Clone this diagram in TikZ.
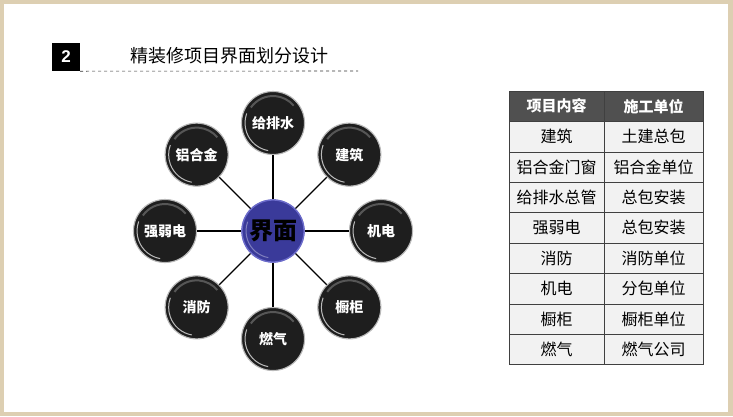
\documentclass[tikz,border=0pt]{standalone}
\usepackage{fontspec}
\usepackage{xcolor}
\setmainfont{Liberation Sans}
\newfontfamily\cjk{Noto Sans CJK SC}
\usetikzlibrary{calc}

\definecolor{frame}{RGB}{221,207,178}
\definecolor{hubblue}{RGB}{58,58,154}
\definecolor{ballblack}{RGB}{30,30,30}
\definecolor{headgray}{RGB}{80,80,80}
\definecolor{cellgray}{RGB}{242,242,242}

\begin{document}
\begin{tikzpicture}[x=1pt, y=-1pt]
    \tikzset{
        ball/.style={circle, draw=gray!55, line width=1.1pt, fill=ballblack, minimum size=63pt, inner sep=0pt, text=white, font=\cjk\bfseries\fontsize{14}{16}\selectfont,
            path picture={\draw [white, opacity=0.7, line width=1pt] ($(path picture bounding box.center)+(100:28)$) arc [start angle=100, end angle=200, radius=28];
                          \draw [white, opacity=0.25, line width=2pt] ($(path picture bounding box.center)+(215:27)$) arc [start angle=215, end angle=320, radius=27];}},
        hub/.style={circle, draw=blue!25!hubblue!70, line width=1.3pt, fill=hubblue, minimum size=62pt, inner sep=0pt, text=black, font=\cjk\bfseries\fontsize{24}{26}\selectfont,
            path picture={\draw [white, opacity=0.35, line width=1pt] ($(path picture bounding box.center)+(100:27)$) arc [start angle=100, end angle=200, radius=27];}},
        spoke/.style={line width=1.2pt, black},
        headcell/.style={rectangle, draw=black!75, fill=headgray, text=white, minimum height=30.4pt, inner sep=0pt, font=\cjk\bfseries\fontsize{15}{18}\selectfont},
        cell/.style={rectangle, draw=black!75, fill=cellgray, text=black, minimum height=30.4pt, inner sep=0pt, font=\cjk\fontsize{16}{18}\selectfont}
    }
    % frame and page
    \fill [frame] (0,0) rectangle (733,416);
    \fill [white] (4,4) rectangle (728,412);

    % header
    \node [rectangle, fill=black, minimum size=28pt, inner sep=0pt, text=white, font=\bfseries\fontsize{17}{18}\selectfont] (num) at (66,57) {2};
    \node [font=\cjk\fontsize{18}{20}\selectfont] (title) at (229,56) {精装修项目界面划分设计};
    \coordinate (dashend) at (358,71);
    \draw [dashed, black!80, line width=0.6pt] (num.south east) -- (dashend);

    % hub and spokes
    \node [hub] (hub) at (273,231) {界面};
    \foreach \name/\txt/\ang in {water/给排水/90, build/建筑/45, mech/机电/0, cabinet/橱柜/-45, gas/燃气/-90, fire/消防/-135, power/强弱电/180, alu/铝合金/135} {
        \node [ball] (\name) at ($(hub)+(-\ang:108)$) {\txt};
        \draw [spoke] (hub) -- (\name);
    }
    \node [hub] at (hub) {界面};

    % table
    \node [headcell, minimum width=95pt] (item0) at (556.5,106.2) {项目内容};
    \node [headcell, minimum width=99pt] (unit0) at (653.5,106.2) {施工单位};
    \foreach \i/\a/\b in {1/建筑/土建总包, 2/铝合金门窗/铝合金单位, 3/给排水总管/总包安装, 4/强弱电/总包安装, 5/消防/消防单位, 6/机电/分包单位, 7/橱柜/橱柜单位, 8/燃气/燃气公司} {
        \node [cell, minimum width=95pt] (item\i) at (556.5,106.2+30.4*\i) {\a};
        \node [cell, minimum width=99pt] (unit\i) at (653.5,106.2+30.4*\i) {\b};
    }
\end{tikzpicture}
\end{document}
